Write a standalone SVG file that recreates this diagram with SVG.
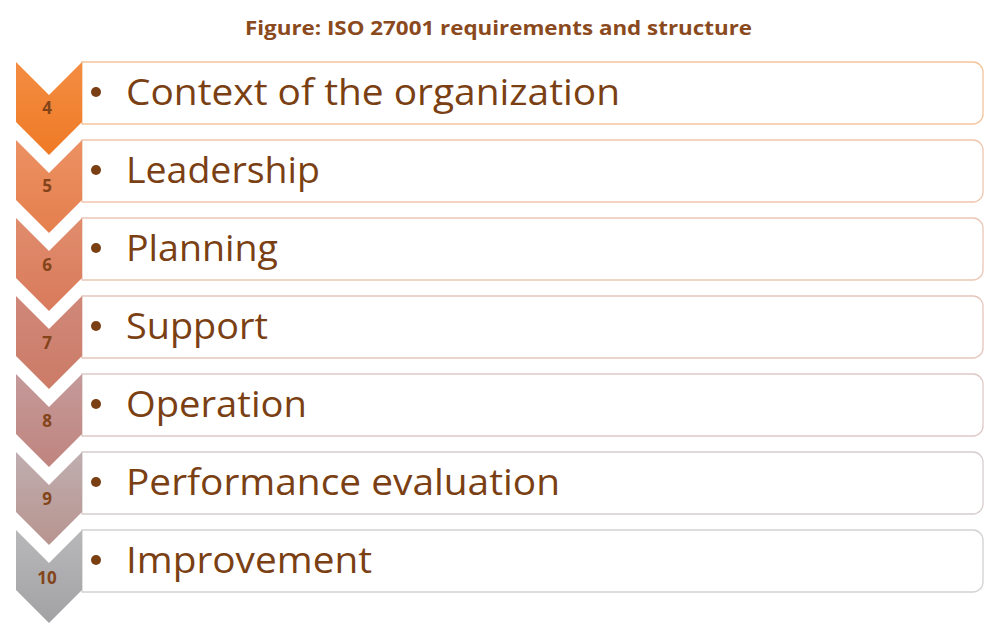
<svg xmlns="http://www.w3.org/2000/svg" width="1000" height="628" viewBox="0 0 1000 628">
<defs>
<linearGradient id="g4" x1="0" y1="0" x2="0" y2="1"><stop offset="0" stop-color="#f38d42"/><stop offset="1" stop-color="#ef7a26"/></linearGradient>
<linearGradient id="g5" x1="0" y1="0" x2="0" y2="1"><stop offset="0" stop-color="#ec9163"/><stop offset="1" stop-color="#e57f4e"/></linearGradient>
<linearGradient id="g6" x1="0" y1="0" x2="0" y2="1"><stop offset="0" stop-color="#e08d6d"/><stop offset="1" stop-color="#d97a5c"/></linearGradient>
<linearGradient id="g7" x1="0" y1="0" x2="0" y2="1"><stop offset="0" stop-color="#d0887a"/><stop offset="1" stop-color="#cc7b66"/></linearGradient>
<linearGradient id="g8" x1="0" y1="0" x2="0" y2="1"><stop offset="0" stop-color="#c49a9a"/><stop offset="1" stop-color="#c0847e"/></linearGradient>
<linearGradient id="g9" x1="0" y1="0" x2="0" y2="1"><stop offset="0" stop-color="#bfaeb0"/><stop offset="1" stop-color="#b8948f"/></linearGradient>
<linearGradient id="g10" x1="0" y1="0" x2="0" y2="1"><stop offset="0" stop-color="#b8b8ba"/><stop offset="1" stop-color="#a2a2a4"/></linearGradient>
<path id="chev" d="M16,0 L49,33 L82,0 L82,60 L49,93 L16,60 Z"/>
<path id="box" d="M82,0 H973 A10,10 0 0 1 983,10 V52 A10,10 0 0 1 973,62 H82 Z"/>
</defs>
<style>
.box{fill:#ffffff;stroke-width:1.3}
.num{font-family:"Open Sans","Noto Sans",sans-serif;font-weight:bold;font-size:17px;fill:#84441a;text-anchor:middle}
.lbl{font-family:"Open Sans","Noto Sans",sans-serif;font-size:37px;fill:#7b3f14}
.dot{fill:#7b3f14}
.title{font-family:"Open Sans","Noto Sans",sans-serif;font-weight:bold;font-size:20px;fill:#8a4a1e}
</style>
<rect width="1000" height="628" fill="#ffffff"/>
<text class="title" x="245" y="35" textLength="507" lengthAdjust="spacingAndGlyphs">Figure: ISO 27001 requirements and structure</text>

<g id="step4">
<use href="#box" class="box" y="62" stroke="#f5c49a"/>
<use href="#chev" y="62" fill="url(#g4)"/>
<text class="num" x="47" y="114">4</text>
<circle class="dot" cx="96" cy="92" r="5"/>
<text class="lbl" x="126" y="105" textLength="494" lengthAdjust="spacingAndGlyphs">Context of the organization</text>
</g>
<g id="step5">
<use href="#box" class="box" y="140" stroke="#f0c6b0"/>
<use href="#chev" y="140" fill="url(#g5)"/>
<text class="num" x="47" y="192">5</text>
<circle class="dot" cx="96" cy="170" r="5"/>
<text class="lbl" x="126" y="183" textLength="194" lengthAdjust="spacingAndGlyphs">Leadership</text>
</g>
<g id="step6">
<use href="#box" class="box" y="218" stroke="#ecc6b6"/>
<use href="#chev" y="218" fill="url(#g6)"/>
<text class="num" x="47" y="271">6</text>
<circle class="dot" cx="96" cy="248" r="5"/>
<text class="lbl" x="126" y="261" textLength="152" lengthAdjust="spacingAndGlyphs">Planning</text>
</g>
<g id="step7">
<use href="#box" class="box" y="296" stroke="#e6c6bc"/>
<use href="#chev" y="296" fill="url(#g7)"/>
<text class="num" x="47" y="349">7</text>
<circle class="dot" cx="96" cy="326" r="5"/>
<text class="lbl" x="126" y="339" textLength="142" lengthAdjust="spacingAndGlyphs">Support</text>
</g>
<g id="step8">
<use href="#box" class="box" y="374" stroke="#dec9c6"/>
<use href="#chev" y="374" fill="url(#g8)"/>
<text class="num" x="47" y="427">8</text>
<circle class="dot" cx="96" cy="404" r="5"/>
<text class="lbl" x="126" y="417" textLength="181" lengthAdjust="spacingAndGlyphs">Operation</text>
</g>
<g id="step9">
<use href="#box" class="box" y="452" stroke="#d8cdcd"/>
<use href="#chev" y="452" fill="url(#g9)"/>
<text class="num" x="47" y="505">9</text>
<circle class="dot" cx="96" cy="482" r="5"/>
<text class="lbl" x="126" y="495" textLength="434" lengthAdjust="spacingAndGlyphs">Performance evaluation</text>
</g>
<g id="step10">
<use href="#box" class="box" y="530" stroke="#d2d2d2"/>
<use href="#chev" y="530" fill="url(#g10)"/>
<text class="num" x="47" y="584">10</text>
<circle class="dot" cx="96" cy="560" r="5"/>
<text class="lbl" x="126" y="573" textLength="246" lengthAdjust="spacingAndGlyphs">Improvement</text>
</g>
<g id="connectors"></g>
</svg>
